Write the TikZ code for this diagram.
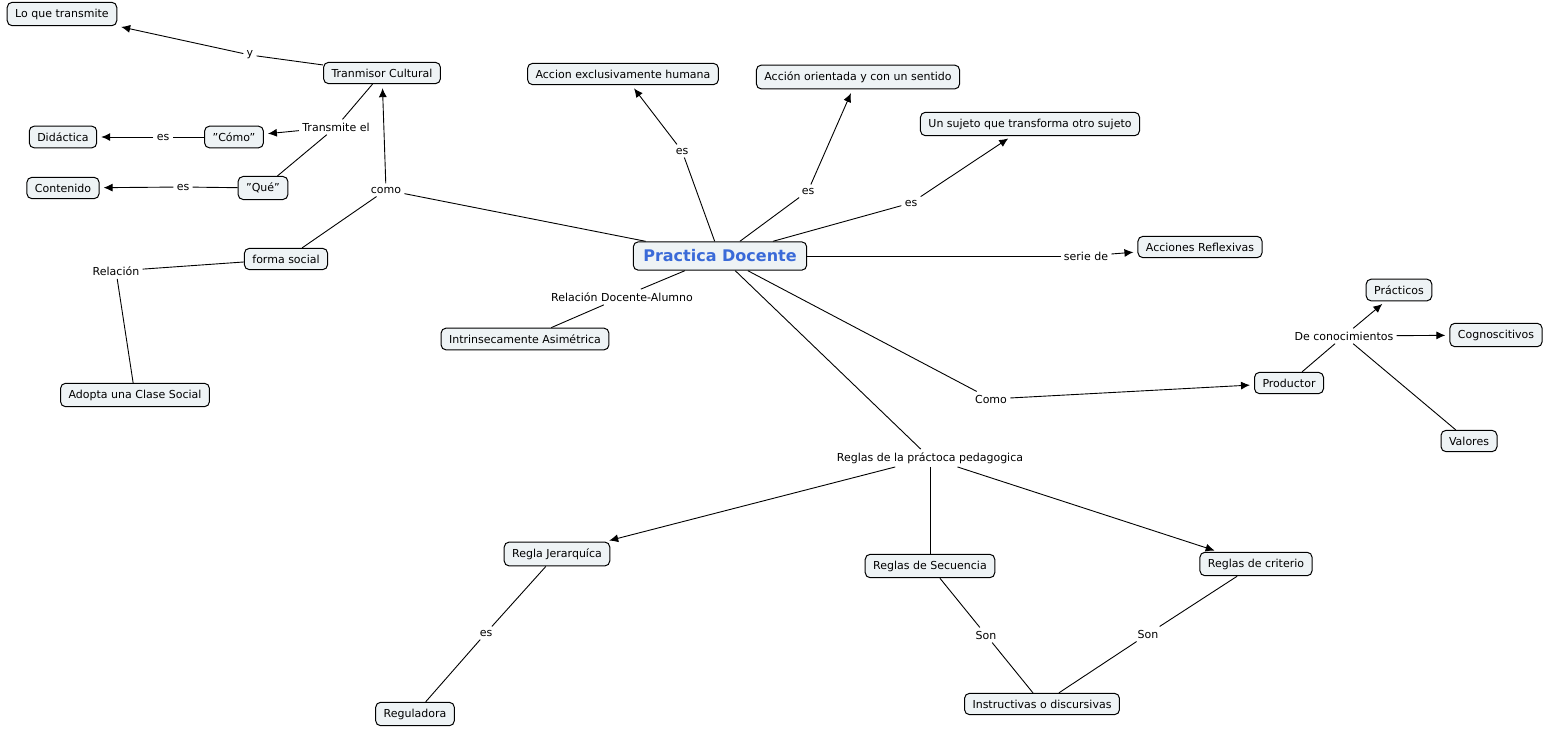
\documentclass[tikz,border=0pt]{standalone}
\usepackage{fontspec}
\setmainfont{DejaVu Sans}
\usetikzlibrary{arrows.meta}
\definecolor{boxfill}{HTML}{EEF3F5}
\definecolor{mainblue}{HTML}{3A6AD8}
\begin{document}
\begin{tikzpicture}[x=0.5pt,y=-0.5pt,
  c/.style={draw=black,fill=boxfill,rounded corners=2.5pt,line width=0.5pt,inner xsep=4pt,inner ysep=3.2pt,font=\fontsize{5.5}{6.6}\selectfont},
  l/.style={inner sep=1.5pt,font=\fontsize{5.5}{6.6}\selectfont},
  ln/.style={line width=0.45pt},
  ar/.style={line width=0.45pt,-{Latex[length=4.5pt,width=4pt]},shorten >=2pt}]
\useasboundingbox (0,0) rectangle (1548,729);
% concepts
\node[c] (lo) at (62,14) {Lo que transmite};
\node[c] (tc) at (382,73) {Tranmisor Cultural};
\node[c] (di) at (63,137) {Didáctica};
\node[c] (co) at (234,137) {"Cómo"};
\node[c] (ct) at (63,188) {Contenido};
\node[c] (qu) at (263,188) {"Qué"};
\node[c] (fs) at (286,259) {forma social};
\node[c] (ad) at (135,395) {Adopta una Clase Social};
\node[c] (ae) at (623,74) {Accion exclusivamente humana};
\node[c] (ao) at (858,77) {Acción orientada y con un sentido};
\node[c] (us) at (1030,124) {Un sujeto que transforma otro sujeto};
\node[c,font=\fontsize{8}{9.6}\selectfont\bfseries,text=mainblue,inner xsep=5pt,inner ysep=4pt] (pd) at (720,256) {Practica Docente};
\node[c] (ar) at (1200,247) {Acciones Reflexivas};
\node[c] (ia) at (525,339) {Intrinsecamente Asimétrica};
\node[c] (pr) at (1399,290) {Prácticos};
\node[c] (cg) at (1496,335) {Cognoscitivos};
\node[c] (po) at (1289,383) {Productor};
\node[c] (va) at (1469,441) {Valores};
\node[c] (rj) at (557,554) {Regla Jerarquíca};
\node[c] (rs) at (930,566) {Reglas de Secuencia};
\node[c] (rc) at (1256,564) {Reglas de criterio};
\node[c] (rg) at (415,714) {Reguladora};
\node[c] (in) at (1042,704) {Instructivas o discursivas};
% linking phrases
\node[l] (ly) at (250,55) {y};
\node[l] (les1) at (163,137) {es};
\node[l] (lte) at (336,127) {Transmite el};
\node[l] (les2) at (183,187) {es};
\node[l] (lcomo) at (386,190) {como};
\node[l] (lrel) at (116,271) {Relación};
\node[l] (les3) at (682,151) {es};
\node[l] (les4) at (808,191) {es};
\node[l] (les5) at (911,203) {es};
\node[l] (lser) at (1086,256) {serie de};
\node[l] (lrda) at (622,297) {Relación Docente-Alumno};
\node[l] (ldc) at (1344,336) {De conocimientos};
\node[l] (lComo) at (991,399) {Como};
\node[l] (lrpp) at (930,458) {Reglas de la práctoca pedagogica};
\node[l] (les6) at (486,633) {es};
\node[l] (lson1) at (986,635) {Son};
\node[l] (lson2) at (1148,634) {Son};
% connectors
\draw[ln] (tc) -- (ly); \draw[ar] (ly) -- (lo);
\draw[ln] (tc) -- (lte); \draw[ar] (lte) -- (co); \draw[ln] (lte) -- (qu);
\draw[ln] (co) -- (les1); \draw[ar] (les1) -- (di);
\draw[ln] (qu) -- (les2); \draw[ar] (les2) -- (ct);
\draw[ln] (pd) -- (lcomo); \draw[ar] (lcomo) -- (tc); \draw[ln] (lcomo) -- (fs);
\draw[ln] (fs) -- (lrel); \draw[ln] (lrel) -- (ad);
\draw[ln] (pd) -- (les3); \draw[ar] (les3) -- (ae);
\draw[ln] (pd) -- (les4); \draw[ar] (les4) -- (ao);
\draw[ln] (pd) -- (les5); \draw[ar] (les5) -- (us);
\draw[ln] (pd) -- (lser); \draw[ar] (lser) -- (ar);
\draw[ln] (pd) -- (lrda); \draw[ln] (lrda) -- (ia);
\draw[ln] (pd) -- (lComo); \draw[ar] (lComo) -- (po);
\draw[ln] (po) -- (ldc); \draw[ar] (ldc) -- (pr); \draw[ar] (ldc) -- (cg); \draw[ln] (ldc) -- (va);
\draw[ln] (pd) -- (lrpp); \draw[ar] (lrpp) -- (rj); \draw[ln] (lrpp) -- (rs); \draw[ar] (lrpp) -- (rc);
\draw[ln] (rj) -- (les6); \draw[ln] (les6) -- (rg);
\draw[ln] (rs) -- (lson1); \draw[ln] (lson1) -- (in);
\draw[ln] (rc) -- (lson2); \draw[ln] (lson2) -- (in);
\end{tikzpicture}
\end{document}
